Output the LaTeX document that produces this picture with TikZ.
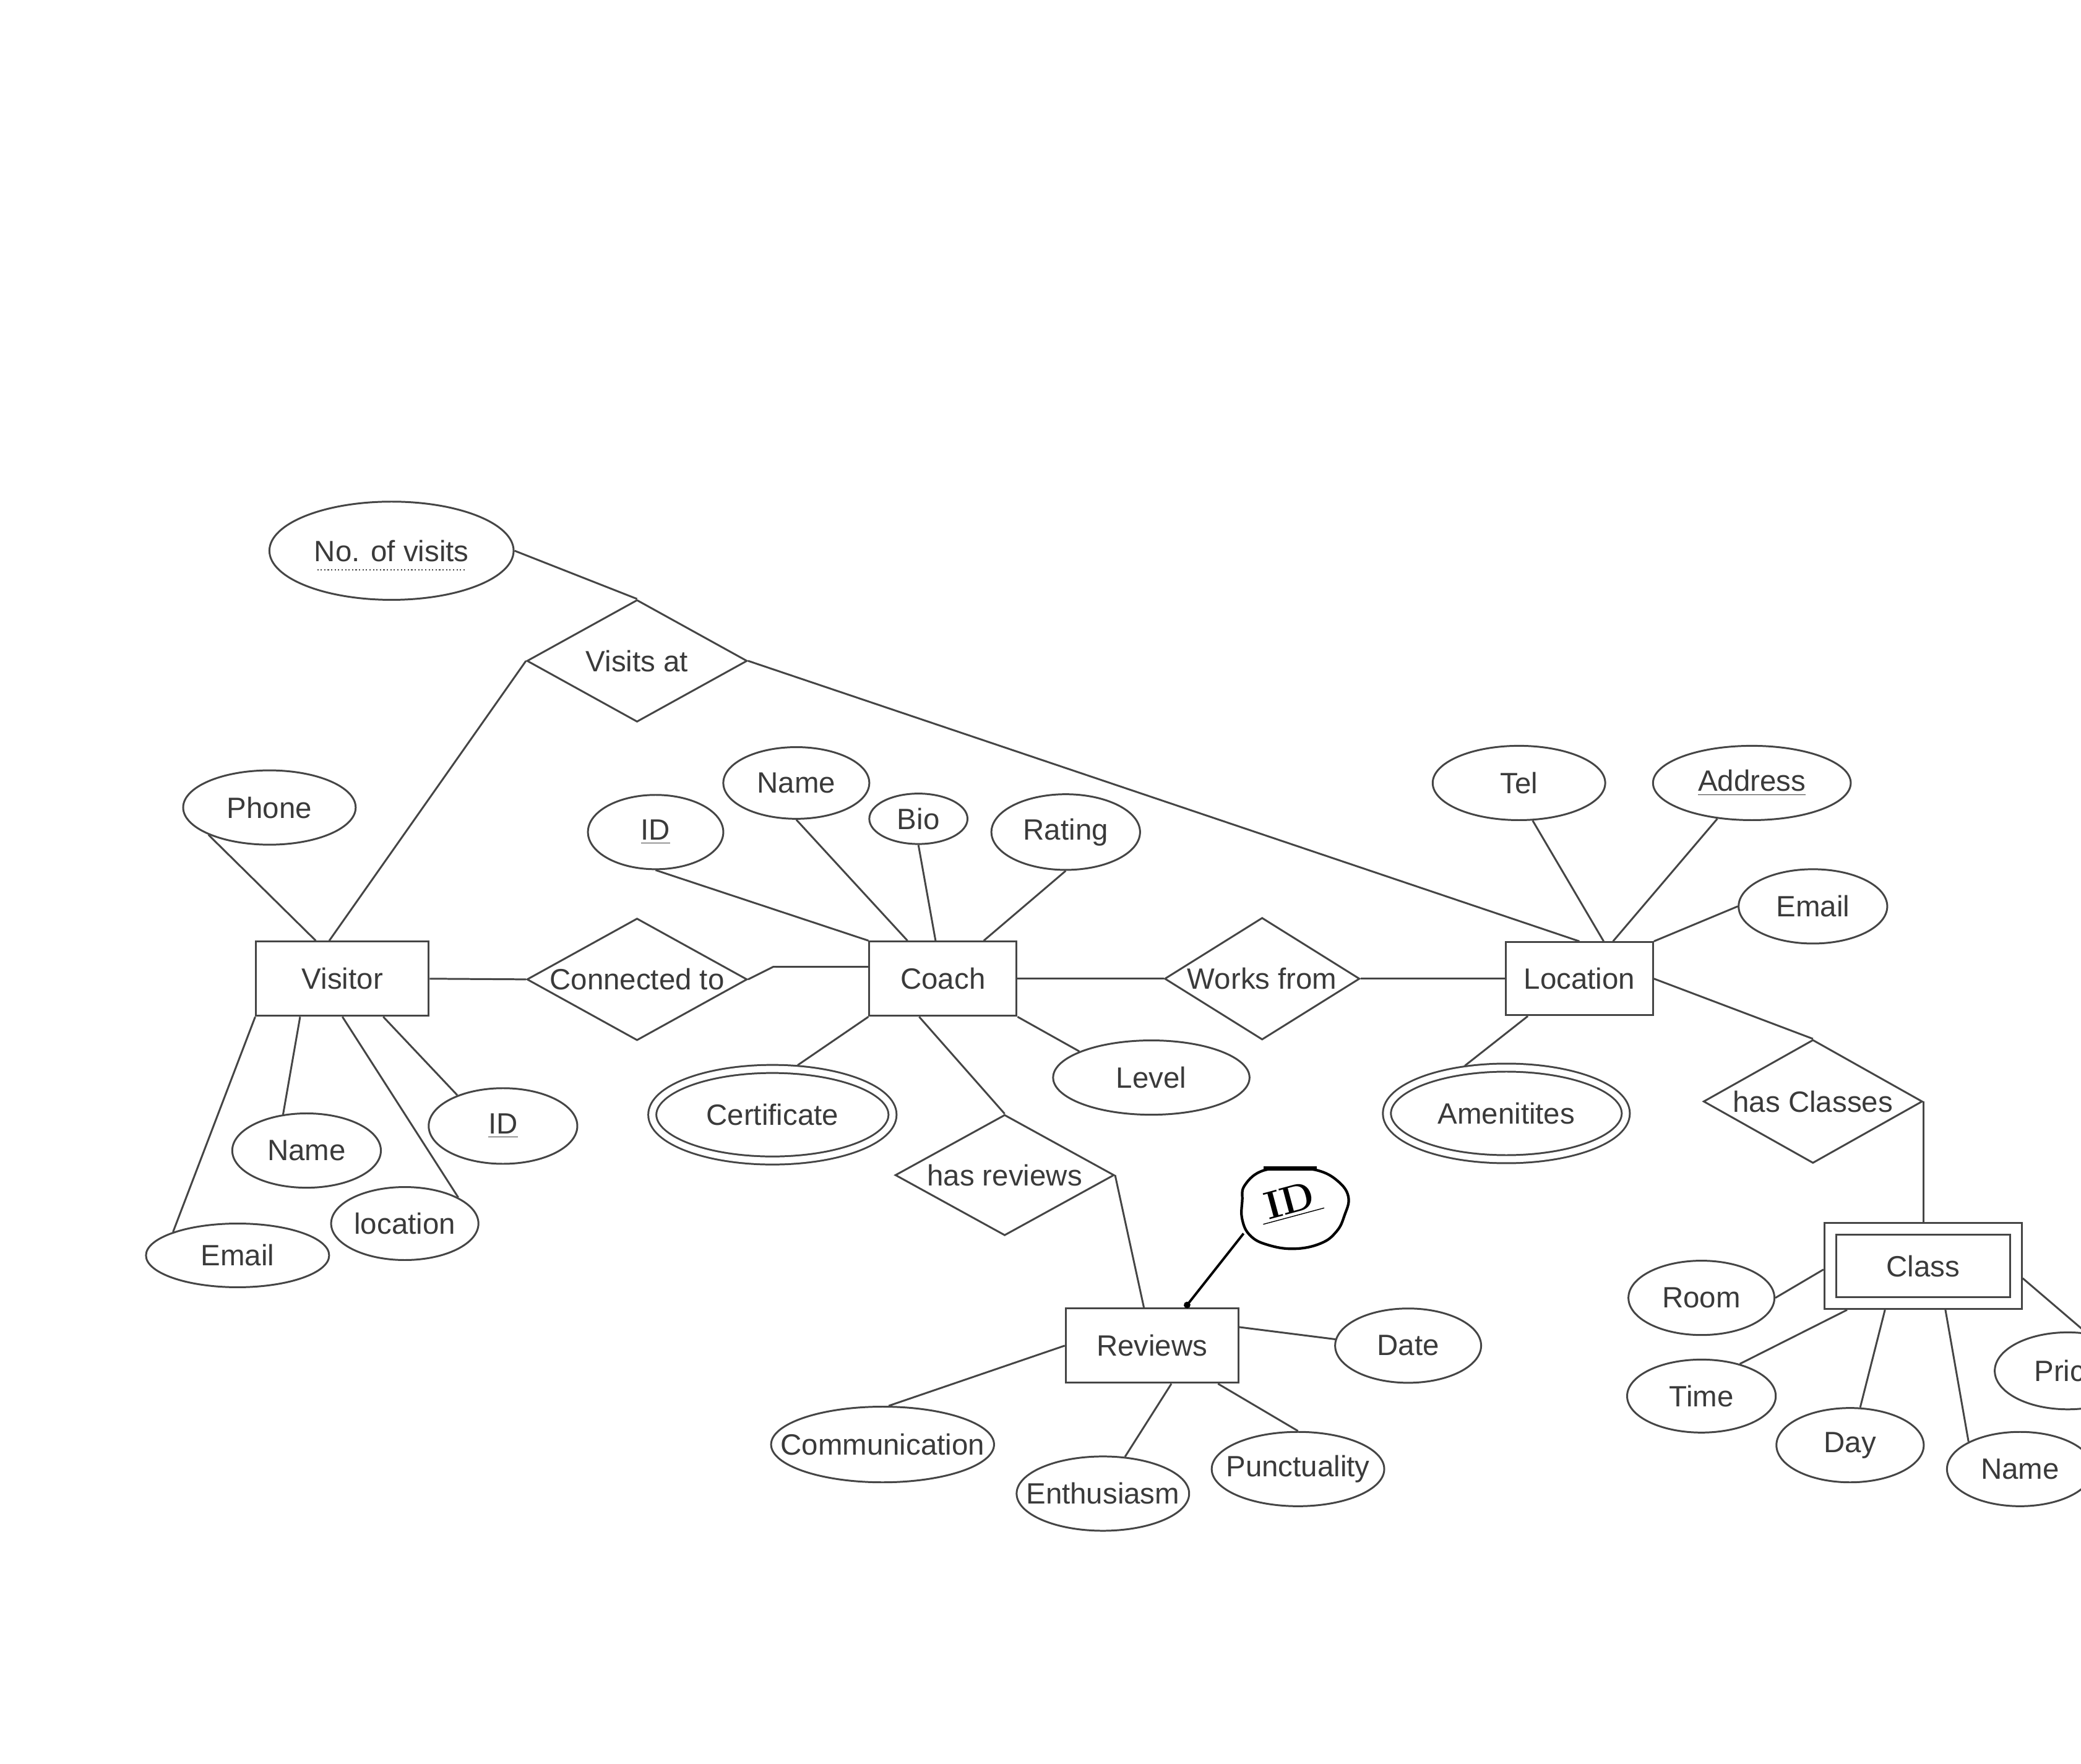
\documentclass[tikz,border=0pt]{standalone}
\usepackage{fontspec}
\newfontfamily\erfont{Liberation Sans}
\usetikzlibrary{shapes.geometric, arrows.meta, calc}

\newcommand{\lbl}[1]{\makebox[0pt]{#1}}
\newcommand{\pxu}{0.2145mm}
\definecolor{erline}{HTML}{454545}
\definecolor{ertext}{HTML}{3A3A3A}

\begin{document}
\begin{tikzpicture}[x=0.2145mm, y=-0.2145mm, line width=0.85pt, color=erline,
  every node/.style={font=\erfont\fontsize{13.5}{16}\selectfont, text=ertext},
  entity/.style 2 args={rectangle, draw, inner sep=0pt, minimum width=#1*\pxu, minimum height=#2*\pxu},
  weakentity/.style 2 args={entity={#1}{#2}, double, double distance=7.5*\pxu, outer sep=1.08mm},
  attrib/.style 2 args={ellipse, draw, inner sep=0pt, minimum width=#1*\pxu, minimum height=#2*\pxu},
  multiattrib/.style 2 args={attrib={#1}{#2}, double, double distance=1mm, outer sep=0.78mm},
  relation/.style 2 args={diamond, draw, inner sep=0pt, minimum width=#1*\pxu, minimum height=#2*\pxu}]
\useasboundingbox (0,0) rectangle (1568,1329);
\clip (0,0) rectangle (1568,1329);

% visitor
\node[entity={130}{56}] (visitor) at (258,737.5) {Visitor};
\node[attrib={130}{56}] (phone) at (203,608.5) {\lbl{Phone}};
\node[attrib={184}{74}] (novisits) at (295,415) {\lbl{No. of visits}};
\node[relation={166}{92}] (visitsat) at (480,498) {\lbl{Visits at}};
\node[relation={166}{92}] (connected) at (480,738) {\lbl{Connected to}};
\node[attrib={112}{56}] (vname) at (231,867) {\lbl{Name}};
\node[attrib={138}{48}] (vemail) at (179,946) {\lbl{Email}};
\node[attrib={111}{55}] (vloc) at (305,922) {\lbl{location}};
\node[attrib={112}{57}] (vid) at (379,848.5) {\lbl{\underline{ID}}};
\draw[densely dotted, line width=0.6pt] ($(novisits.center)+(-56,14.5)$) -- ++(112,0);

% coach
\node[entity={111}{56}] (coach) at (710.5,737.5) {Coach};
\node[attrib={102}{56}] (cid) at (494,627) {\lbl{\underline{ID}}};
\node[attrib={110}{54}] (cname) at (600,590) {\lbl{Name}};
\node[attrib={74}{38}] (bio) at (692,617) {\lbl{Bio}};
\node[attrib={112}{57}] (rating) at (803,627) {\lbl{Rating}};
\node[attrib={148}{56}] (level) at (867.5,812) {\lbl{Level}};
\node[multiattrib={181}{69}] (cert) at (582,840) {\lbl{Certificate}};
\node[relation={147}{92}] (works) at (951,737.5) {\lbl{Works from}};
\node[relation={165}{91}] (hasrev) at (757,885.5) {\lbl{has reviews}};

% reviews
\node[entity={130}{56}] (reviews) at (868,1014) {Reviews};
\node[attrib={110}{56}] (date) at (1061,1014) {\lbl{Date}};
\node[attrib={168}{57}] (comm) at (665,1088.5) {\lbl{Communication}};
\node[attrib={130}{56}] (enth) at (831,1125.5) {\lbl{Enthusiasm}};
\node[attrib={130}{56}] (punct) at (978,1107) {\lbl{Punctuality}};

% location
\node[entity={111}{55}] (location) at (1190,737.5) {Location};
\node[attrib={130}{56}] (tel) at (1144.5,590) {\lbl{Tel}};
\node[attrib={149}{56}] (address) at (1320,590) {\lbl{\underline{Address}}};
\node[attrib={112}{56}] (lemail) at (1366,683) {\lbl{Email}};
\node[multiattrib={180}{69}] (amen) at (1135,839) {\lbl{Amenitites}};
\node[relation={165}{93}] (hascls) at (1366,830) {\lbl{has Classes}};

% class
\node[weakentity={140}{56}] (class) at (1449,954) {Class};
\node[attrib={110}{56}] (room) at (1282,978) {\lbl{Room}};
\node[attrib={112}{55}] (time) at (1282,1052) {\lbl{Time}};
\node[attrib={111}{56}] (day) at (1394,1089) {\lbl{Day}};
\node[attrib={110}{56}] (clname) at (1522,1107) {\lbl{Name}};
\node[attrib={110}{58}] (price) at (1558,1033) {\lbl{Price}};

% hand drawn key
\draw[black, line width=1.2pt] plot[smooth cycle, tension=0.7] coordinates {(938,893) (952,882) (975,881) (993,882) (1008,890) (1016,902) (1013,916) (1007,928) (995,937) (975,941) (955,938) (942,931) (936,919) (936,905)};
\draw[black, line width=2pt] (952,880.5) -- (992,880.5);
\node[black, rotate=15, font=\rmfamily\bfseries\fontsize{18}{20}\selectfont] (rid) at (972,906) {\underline{\,ID\,}};
\coordinate (ridtail) at (937,929.5);

% lines
\draw (novisits.east) -- (visitsat.north);
\draw (visitsat.east) -- (location.north);
\draw (visitsat.west) -- (visitor.109);
\draw (phone.204) -- (visitor.125);
\draw (visitor.east) -- (connected.west);
\draw (connected.east) -- ++(19,-9.5) -- (coach.171);
\draw (visitor.222) -- (vname.123);
\draw (visitor.south west) -- (vemail.160);
\draw (visitor.south) -- (vloc.26);
\draw (visitor.-43) -- (vid.146);

\draw (cid.south) -- (coach.north west);
\draw (cname.south) -- (coach.133);
\draw (bio.south) -- (coach.101);
\draw (rating.south) -- (coach.43);
\draw (coach.south east) -- (level.160);
\draw (coach.south west) -- (cert.63);
\draw (coach.238) -- (hasrev.north);
\draw (coach.east) -- (works.west);
\draw (works.east) -- (location.west);
\draw (hasrev.east) -- (reviews.102);

\draw (reviews.12) -- (date.175);
\draw (reviews.west) -- (comm.81);
\draw (reviews.-63) -- (enth.59);
\draw (reviews.-30) -- (punct.north);
\draw[black, line width=1.1pt, -{Circle[length=3pt]}] (ridtail) -- (reviews.49);

\draw (tel.-70) -- (location.57);
\draw (address.226) -- (location.48);
\draw (lemail.west) -- (location.north east);
\draw (location.216) -- (amen.131);
\draw (location.east) -- (hascls.north);
\draw (hascls.east) -- (hascls.east |- class.north);

\draw (room.east) -- (class.182);
\draw (time.40) -- (class.210);
\draw (day.75) -- (class.229);
\draw (clname.152) -- (class.-63);
\draw (class.-7) -- (price.64);
\end{tikzpicture}
\end{document}
